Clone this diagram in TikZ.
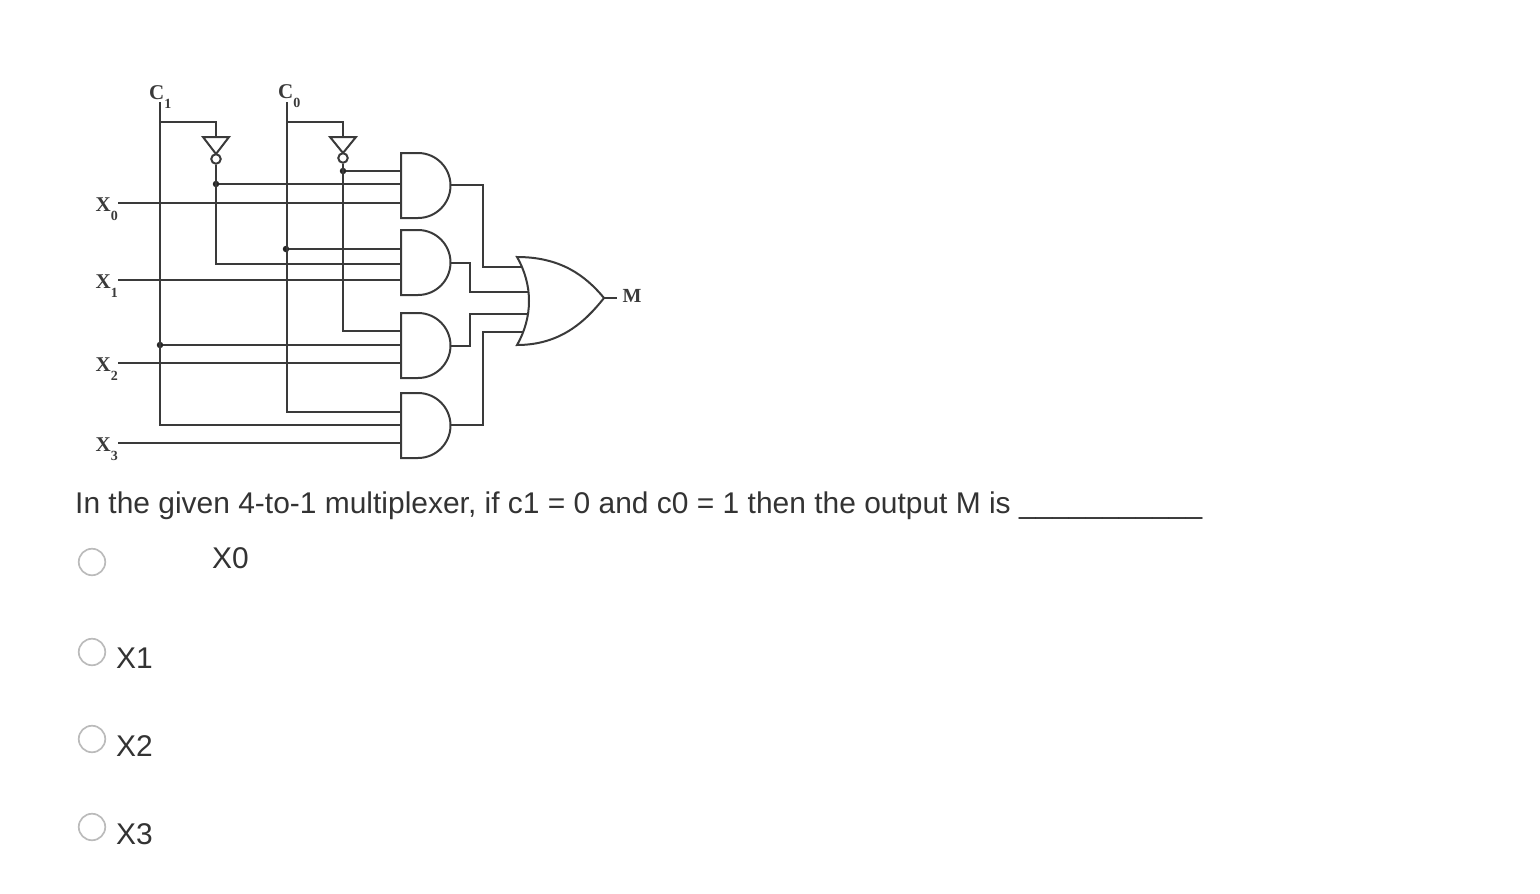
\documentclass[tikz,border=0pt]{standalone}
\usepackage{fontspec}
\setmainfont{Liberation Sans}
\newfontfamily\signalfont{Liberation Serif}
\usepackage{xcolor}
\definecolor{wirecol}{HTML}{3A3A3A}
\definecolor{textcol}{HTML}{333333}
\definecolor{radiocol}{HTML}{BBBBBB}
\newcommand{\sig}[2]{{\signalfont\bfseries #1\raisebox{-9pt}{\fontsize{14}{14}\selectfont #2}}}
\tikzset{
    wire/.style={draw=wirecol,line width=2.1pt,line join=miter},
    gateline/.style={draw=wirecol,line width=2pt,fill=white},
    junction/.style={circle,fill=black!85,inner sep=0pt,minimum size=6.5pt},
    bubble/.style={circle,draw=wirecol,line width=2pt,fill=white,inner sep=0pt,minimum size=9.5pt},
    siglabel/.style={inner sep=0pt,text=wirecol,font=\fontsize{21}{21}\selectfont},
    radio/.style={circle,draw=radiocol,line width=1.7pt,fill=white,inner sep=0pt,minimum size=26.5pt},
    qtext/.style={anchor=base west,inner sep=0pt,text=textcol,font=\fontsize{29.95}{36}\selectfont}
}
\begin{document}
\begin{tikzpicture}[x=1pt,y=-1pt]
    \useasboundingbox (0,0) rectangle (1540,894);

    % input and select signals
    \node[siglabel,anchor=base east] (x0l) at (118,211) {\sig{X}{0}};
    \node[siglabel,anchor=base east] (x1l) at (118,288) {\sig{X}{1}};
    \node[siglabel,anchor=base east] (x2l) at (118,371) {\sig{X}{2}};
    \node[siglabel,anchor=base east] (x3l) at (118,451) {\sig{X}{3}};
    \node[siglabel,anchor=base west] (c1l) at (149,99) {\sig{C}{1}};
    \node[siglabel,anchor=base west] (c0l) at (278,98) {\sig{C}{0}};
    \coordinate (x0) at (118,203);
    \coordinate (x1) at (118,280);
    \coordinate (x2) at (118,363);
    \coordinate (x3) at (118,443);
    \coordinate (c1) at (160,102);
    \coordinate (c0) at (287,102);
    \coordinate (c1b) at (160,122);
    \coordinate (c0b) at (287,122);

    % and gates
    \foreach \n/\ya/\yb/\yc/\yd/\ye in {1/153/171/184/203/185,2/230/249/264/280/263,3/313/331/345/363/346,4/393/412/425/443/425}{
        \draw[gateline] (401,\ya) -- (418,\ya) arc (90:-90:32.5pt) -- (401,\ya+65) -- cycle;
        \coordinate (g\n a) at (401,\yb);
        \coordinate (g\n b) at (401,\yc);
        \coordinate (g\n c) at (401,\yd);
        \coordinate (g\n o) at (450,\ye);
    }

    % or gate
    \draw[gateline] (517,257) .. controls (533,285) and (533,317) .. (517,345)
        .. controls (560,345) and (585,322) .. (604,298)
        .. controls (585,275) and (560,257) .. (517,257) -- cycle;
    \coordinate (or1) at (522,267);
    \coordinate (or2) at (528,292);
    \coordinate (or3) at (528,314);
    \coordinate (or4) at (524,332);
    \coordinate (orout) at (604,298);
    \node[siglabel,inner sep=5pt,font=\fontsize{20}{20}\selectfont] (mout) at (632,296) {\signalfont\bfseries M};

    % inverters
    \foreach \n/\x/\yb in {1/216/159,0/343/158}{
        \draw[gateline] (\x-13,137) -- (\x+13,137) -- (\x,\yb-5) -- cycle;
        \coordinate (inv\n t) at (\x,137);
        \node[bubble] (inv\n) at (\x,\yb) {};
    }

    % junctions
    \node[junction] (d1) at (216,184) {};
    \node[junction] (d2) at (343,171) {};
    \node[junction] (d3) at (286,249) {};
    \node[junction] (d4) at (160,345) {};

    % wires
    \draw[wire] (x0) -- (g1c);
    \draw[wire] (x1) -- (g2c);
    \draw[wire] (x2) -- (g3c);
    \draw[wire] (x3) -- (g4c);
    \draw[wire] (c1) |- (g4b);
    \draw[wire] (c0) |- (g4a);
    \draw[wire] (c1b) -| (inv1t);
    \draw[wire] (c0b) -| (inv0t);
    \draw[wire] (inv1) |- (g2b);
    \draw[wire] (inv0) |- (g3a);
    \draw[wire] (d1) -- (g1b);
    \draw[wire] (d2) -- (g1a);
    \draw[wire] (d3) -- (g2a);
    \draw[wire] (d4) -- (g3b);
    \draw[wire] (g1o) -- ++(33,0) |- (or1);
    \draw[wire] (g2o) -- ++(20,0) |- (or2);
    \draw[wire] (g3o) -- ++(20,0) |- (or3);
    \draw[wire] (g4o) -- ++(33,0) |- (or4);
    \draw[wire] (orout) -- (orout -| mout.west);

    % question and answers
    \node[qtext] (question) at (75,513) {In the given 4-to-1 multiplexer, if c1 = 0 and c0 = 1 then the output M is \_\_\_\_\_\_\_\_\_\_\_};
    \node[radio] (r0) at (92,562) {};
    \node[radio] (r1) at (92,652) {};
    \node[radio] (r2) at (92,739) {};
    \node[radio] (r3) at (92,827) {};
    \node[qtext] (a0) at (212,568) {X0};
    \node[qtext] (a1) at (116,668) {X1};
    \node[qtext] (a2) at (116,756) {X2};
    \node[qtext] (a3) at (116,844) {X3};
\end{tikzpicture}
\end{document}
